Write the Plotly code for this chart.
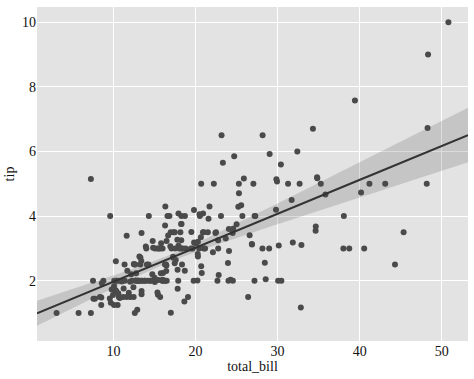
import numpy as np
import plotly.graph_objects as go

total_bill = [16.99,10.34,21.01,23.68,24.59,25.29,8.77,26.88,15.04,14.78,10.27,35.26,15.42,18.43,14.83,21.58,10.33,16.29,16.97,20.65,
17.92,20.29,15.77,39.42,19.82,17.81,13.37,12.69,21.70,19.65,9.55,18.35,15.06,20.69,17.78,24.06,16.31,16.93,18.69,31.27,
16.04,17.46,13.94,9.68,30.40,18.29,22.23,32.40,28.55,18.04,12.54,10.29,34.81,9.94,25.56,19.49,38.01,26.41,11.24,48.27,
20.29,13.81,11.02,18.29,17.59,20.08,16.45,3.07,20.23,15.01,12.02,17.07,26.86,25.28,14.73,10.51,17.92,27.20,22.76,17.29,
19.44,16.66,10.07,32.68,15.98,34.83,13.03,18.28,24.71,21.16,28.97,22.49,5.75,16.32,22.75,40.17,27.28,12.03,21.01,12.46,
11.35,15.38,44.30,22.42,20.92,15.36,20.49,25.21,18.24,14.31,14.00,7.25,38.07,23.95,25.71,17.31,29.93,10.65,12.43,24.08,
11.69,13.42,14.26,15.95,12.48,29.80,8.52,14.52,11.38,22.82,19.08,20.27,11.17,12.26,18.26,8.51,10.33,14.15,16.00,13.16,
17.47,34.30,41.19,27.05,16.43,8.35,18.64,11.87,9.78,7.51,14.07,13.13,17.26,24.55,19.77,29.85,48.17,25.00,13.39,16.49,
21.50,12.66,16.21,13.81,17.51,24.52,20.76,31.71,10.59,10.63,50.81,15.81,7.25,31.85,16.82,32.90,17.89,14.48,9.60,34.63,
34.65,23.33,45.35,23.17,40.55,20.69,20.90,30.46,18.15,23.10,15.69,19.81,28.44,15.48,16.58,7.56,10.34,43.11,13.00,13.51,
18.71,12.74,13.00,16.40,20.53,16.47,26.59,38.73,24.27,12.76,30.06,25.89,48.33,13.27,28.17,12.90,28.15,11.59,7.74,30.14,
12.16,13.42,8.58,15.98,13.42,16.27,10.09,20.45,13.28,22.12,24.01,15.69,11.61,10.77,15.53,10.07,12.60,32.83,35.83,29.03,
27.18,22.67,17.82,18.78]

tip = [1.01,1.66,3.50,3.31,3.61,4.71,2.00,3.12,1.96,3.23,1.71,5.00,1.57,3.00,3.02,3.92,1.67,3.71,3.50,3.35,
4.08,2.75,2.23,7.58,3.18,2.34,2.00,2.00,4.30,3.00,1.45,2.50,3.00,2.45,3.27,3.60,2.00,3.07,2.31,5.00,
2.24,2.54,3.06,1.32,5.60,3.00,5.00,6.00,2.05,3.00,2.50,2.60,5.20,1.56,4.34,3.51,3.00,1.50,1.76,6.73,
3.21,2.00,1.98,3.76,2.64,3.15,2.47,1.00,2.01,2.09,1.97,3.00,3.14,5.00,2.20,1.25,3.08,4.00,3.00,2.71,
3.00,3.40,1.83,5.00,2.03,5.17,2.00,4.00,5.85,3.00,3.00,3.50,1.00,4.30,3.25,4.73,4.00,1.50,3.00,1.50,
2.50,3.00,2.50,3.48,4.08,1.64,4.06,4.29,3.76,4.00,3.00,1.00,4.00,2.55,4.00,3.50,5.07,1.50,1.80,2.92,
2.31,1.68,2.50,2.00,2.52,4.20,1.48,2.00,2.00,2.18,1.50,2.83,1.50,2.00,3.25,1.25,2.00,2.00,2.00,2.75,
3.50,6.70,5.00,5.00,2.30,1.50,1.36,1.63,1.73,2.00,2.50,2.00,2.74,2.00,2.00,5.14,5.00,3.75,2.61,2.00,
3.50,2.50,2.00,2.00,3.00,3.48,2.24,4.50,1.61,2.00,10.00,3.16,5.15,3.18,4.00,3.11,2.00,2.00,4.00,3.55,
3.68,5.65,3.50,6.50,3.00,5.00,3.50,2.00,3.50,4.00,1.50,4.19,2.56,2.02,4.00,1.44,2.00,5.00,2.00,2.00,
4.00,2.01,2.00,2.50,4.00,3.23,3.41,3.00,2.03,2.23,2.00,5.16,9.00,2.50,6.50,1.10,3.00,1.50,1.44,3.09,
2.20,3.48,1.92,3.00,1.58,2.50,2.00,3.00,2.72,2.88,2.00,3.00,3.39,1.47,3.00,1.25,1.00,1.17,4.67,5.92,
2.00,2.00,1.75,3.00]

x_ticks = [10, 20, 30, 40, 50]
y_ticks = [2, 4, 6, 8, 10]

x = np.array(total_bill)
y = np.array(tip)
X = np.column_stack([np.ones_like(x), x])
XtX_inv = np.linalg.inv(X.T @ X)
beta = XtX_inv @ X.T @ y
resid = y - X @ beta
meat = X.T @ (X * (resid ** 2)[:, None])
V = XtX_inv @ meat @ XtX_inv

span = x.max() - x.min()
xlo, xhi = x.min() - 0.05 * span, x.max() + 0.05 * span
xs = np.linspace(xlo, xhi, 100)
Xs = np.column_stack([np.ones_like(xs), xs])
pred = Xs @ beta
se = np.sqrt(np.einsum('ij,jk,ik->i', Xs, V, Xs))
upper = pred + 1.96 * se
lower = pred - 1.96 * se

ymin = min(y.min(), lower.min())
ymax = max(y.max(), upper.max())
yspan = ymax - ymin

font = "Liberation Serif, Times New Roman, serif"

fig = go.Figure()
fig.add_trace(go.Scatter(x=xs, y=lower, mode="lines", line=dict(width=0), hoverinfo="skip", showlegend=False))
fig.add_trace(go.Scatter(x=xs, y=upper, mode="lines", line=dict(width=0), fill="tonexty",
                         fillcolor="rgba(60,60,60,0.18)", hoverinfo="skip", showlegend=False))
fig.add_trace(go.Scatter(x=x, y=y, mode="markers",
                         marker=dict(size=6, color="#4a4a4a", line=dict(width=0)), showlegend=False))
fig.add_trace(go.Scatter(x=xs, y=pred, mode="lines", line=dict(color="#333333", width=2), showlegend=False))

fig.update_layout(
    width=474, height=379,
    margin=dict(l=37, r=6, t=7, b=38),
    paper_bgcolor="white",
    plot_bgcolor="#e3e3e3",
    font=dict(family=font, size=14, color="#111111"),
    xaxis=dict(range=[xlo, xhi], tickvals=x_ticks, showgrid=True, gridcolor="white", gridwidth=1,
               zeroline=False, showline=False, ticks="", ticklen=0,
               title=dict(text="total_bill", standoff=1, font=dict(size=14))),
    yaxis=dict(range=[ymin - 0.05 * yspan, ymax + 0.05 * yspan], tickvals=y_ticks, showgrid=True,
               gridcolor="white", gridwidth=1, zeroline=False, showline=False, ticks="", ticklen=0,
               title=dict(text="tip", standoff=4, font=dict(size=14))),
)
fig.write_html("out.html", config={"displayModeBar": False},
               post_script="document.body.style.margin='0';document.body.style.overflow='hidden';")
